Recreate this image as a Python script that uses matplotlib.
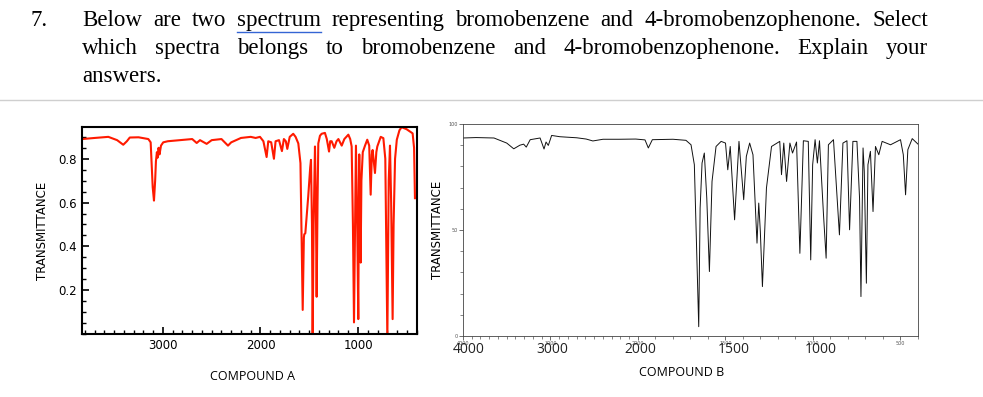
import numpy as np
import matplotlib.pyplot as plt
from matplotlib.ticker import FixedLocator, MultipleLocator, NullFormatter
from matplotlib.lines import Line2D

W, H = 983, 397

question_num = '7.'
question_lines = [
    'Below are two spectrum representing bromobenzene and 4-bromobenzophenone. Select',
    'which spectra belongs to bromobenzene and 4-bromobenzophenone. Explain your',
    'answers.',
]

# compound A: wavenumber (cm-1) and transmittance (0-1)
a_wn = [3828, 3700, 3560, 3470, 3407, 3370, 3340, 3250, 3150, 3126, 3105, 3092,
        3080, 3072, 3062, 3055, 3045, 3035, 3020, 2997, 2950, 2900, 2800, 2700,
        2654, 2620, 2552, 2500, 2400, 2333, 2300, 2200, 2100, 2050, 2005, 1970,
        1937, 1920, 1890, 1862, 1845, 1810, 1780, 1760, 1740, 1725, 1700, 1664,
        1640, 1612, 1590, 1567, 1555, 1551, 1540, 1510, 1490, 1482, 1472, 1465,
        1455, 1441, 1432, 1424, 1415, 1407, 1390, 1373, 1339, 1320, 1297, 1285,
        1270, 1243, 1220, 1201, 1167, 1140, 1099, 1080, 1065, 1052, 1041, 1030,
        1021, 1008, 997, 990, 987, 980, 973, 965, 951, 928, 905, 885, 870, 858,
        850, 826, 812, 802, 767, 740, 720, 699, 685, 672, 660, 645, 635, 620,
        602, 575, 553, 502, 440, 425, 416]
a_tr = [0.890, 0.895, 0.900, 0.885, 0.864, 0.880, 0.897, 0.898, 0.890, 0.875, 0.670, 0.609,
        0.700, 0.788, 0.830, 0.805, 0.850, 0.820, 0.860, 0.875, 0.880, 0.882, 0.886, 0.890,
        0.872, 0.885, 0.868, 0.885, 0.890, 0.860, 0.875, 0.895, 0.900, 0.895, 0.900, 0.880,
        0.808, 0.880, 0.875, 0.800, 0.880, 0.885, 0.835, 0.890, 0.880, 0.845, 0.900, 0.914,
        0.900, 0.870, 0.780, 0.110, 0.440, 0.455, 0.460, 0.630, 0.760, 0.795, 0.500, -0.02,
        0.500, 0.856, 0.600, 0.170, 0.600, 0.870, 0.905, 0.914, 0.918, 0.890, 0.833, 0.880,
        0.880, 0.850, 0.880, 0.890, 0.860, 0.890, 0.910, 0.890, 0.856, 0.500, 0.053, 0.500,
        0.860, 0.500, 0.068, 0.700, 0.820, 0.600, 0.326, 0.700, 0.830, 0.860, 0.887, 0.860,
        0.636, 0.820, 0.840, 0.735, 0.830, 0.856, 0.900, 0.894, 0.800, -0.02, 0.700, 0.860,
        0.600, 0.068, 0.500, 0.800, 0.887, 0.930, 0.944, 0.935, 0.916, 0.850, 0.620]

# compound B: wavenumber (cm-1) and transmittance (%)
b_wn = [4000, 3850, 3646, 3500, 3420, 3350, 3307, 3277, 3232, 3119, 3074, 3051,
        3025, 2987, 2893, 2700, 2592, 2516, 2400, 2215, 2026, 1960, 1941, 1918,
        1800, 1726, 1697, 1678, 1653, 1645, 1634, 1621, 1607, 1592, 1577, 1554,
        1525, 1500, 1487, 1473, 1448, 1423, 1396, 1381, 1362, 1343, 1320, 1310,
        1301, 1289, 1280, 1266, 1237, 1190, 1180, 1167, 1151, 1132, 1117, 1094,
        1075, 1055, 1027, 1013, 1002, 988, 975, 963, 940, 925, 912, 883, 849,
        829, 806, 791, 772, 749, 734, 726, 714, 707, 695, 686, 672, 657, 643,
        624, 605, 557, 500, 484, 471, 458, 433, 400]
b_tr = [93.4, 93.6, 93.4, 91.0, 88.3, 90.0, 90.5, 89.1, 92.6, 93.4, 88.2, 91.5,
        89.9, 94.6, 94.0, 93.5, 92.9, 92.0, 92.8, 92.8, 92.9, 92.5, 88.7, 92.6,
        92.8, 92.3, 90.2, 80.8, 4.4, 60.3, 81.6, 86.3, 65.0, 30.4, 72.9, 89.4,
        91.8, 91.0, 78.4, 89.4, 54.8, 91.8, 64.3, 84.7, 91.0, 85.5, 43.8, 62.7,
        49.3, 23.3, 41.4, 69.8, 89.4, 91.8, 76.1, 91.0, 72.9, 91.0, 86.3, 91.5,
        39.0, 92.1, 91.8, 35.9, 80.8, 92.6, 81.6, 92.1, 57.2, 36.7, 90.2, 92.6, 47.7,
        91.0, 92.1, 50.1, 91.8, 91.8, 65.0, 18.6, 88.7, 77.6, 24.9, 80.8, 87.1, 58.7, 89.4,
        85.5, 91.8, 90.2, 92.6, 85.5, 66.6, 87.9, 93.1, 90.5]

a_ticks = [3000, 2000, 1000]
b_ticks = [4000, 3000, 2000, 1500, 1000, 500]
b_big_labels = ['4000', '3000', '2000', '1500', '1000']


def fwd(w):
    w = np.asarray(w, float)
    return np.where(w < 2000, w, 2000 + (w - 2000) / 2)


def inv(u):
    u = np.asarray(u, float)
    return np.where(u < 2000, u, 2000 + (u - 2000) * 2)


fig = plt.figure(figsize=(W / 100, H / 100), dpi=100)

# ---- question text (justified) ----
r = fig.canvas.get_renderer()
serif = 'Liberation Serif'
fs = 16.5
fig.text(30 / W, 1 - 26 / H, question_num, fontsize=fs, family=serif, va='baseline')
x0, x1 = 82, 928
baselines = [26, 54, 82]
underline_box = None
for li, line in enumerate(question_lines):
    words = line.split(' ')
    texts = [fig.text(0, 1 - baselines[li] / H, w, fontsize=fs, family=serif, va='baseline')
             for w in words]
    widths = [t.get_window_extent(r).width for t in texts]
    if li < len(question_lines) - 1:
        gap = (x1 - x0 - sum(widths)) / (len(words) - 1)
    else:
        gap = 5
    x = x0
    for t, w_, word in zip(texts, widths, words):
        t.set_x(x / W)
        if word == 'spectrum':
            underline_box = (x, x + w_)
        x += w_ + gap

if underline_box:
    fig.add_artist(Line2D([underline_box[0] / W, underline_box[1] / W],
                          [1 - 32 / H, 1 - 32 / H], transform=fig.transFigure,
                          color='#3465d4', lw=1.0))

fig.add_artist(Line2D([0, 1], [1 - 99.5 / H, 1 - 99.5 / H], transform=fig.transFigure,
                      color='#cfcfcf', lw=1.0))

# ---- compound A ----
axA = fig.add_axes([82 / W, 1 - 334 / H, 335 / W, 207 / H])
axA.plot(a_wn, a_tr, color='#ff1a00', lw=1.5)
axA.set_xlim(3830, 395)
axA.set_ylim(0, 0.945)
axA.set_xticks(a_ticks)
axA.xaxis.set_minor_locator(MultipleLocator(100))
axA.set_yticks([0.2, 0.4, 0.6, 0.8])
axA.yaxis.set_minor_locator(MultipleLocator(0.05))
axA.tick_params(which='both', direction='in', labelsize=8.5, top=False, right=False)
axA.tick_params(which='major', length=5, width=1.2)
axA.tick_params(which='minor', length=3, width=1.0)
for s in axA.spines.values():
    s.set_linewidth(1.5)
axA.set_ylabel('TRANSMITTANCE', fontsize=8.5)
axA.yaxis.set_label_coords(-0.1, 0.5)
fig.text(252 / W, 1 - 377 / H, 'COMPOUND A', fontsize=9, family='Open Sans',
         ha='center', va='center')

# ---- compound B ----
axB = fig.add_axes([463 / W, 1 - 336 / H, 455 / W, 212 / H])
axB.set_xscale('function', functions=(fwd, inv))
axB.plot(b_wn, b_tr, color='#111111', lw=0.7)
axB.set_xlim(4000, 400)
axB.set_ylim(0, 100)
axB.xaxis.set_major_locator(FixedLocator(b_ticks))
axB.xaxis.set_minor_locator(FixedLocator(list(range(400, 4001, 100))))
axB.xaxis.set_minor_formatter(NullFormatter())
axB.set_xticklabels([str(v) for v in b_ticks])
axB.set_yticks([0, 50, 100])
axB.yaxis.set_minor_locator(MultipleLocator(10))
axB.tick_params(which='both', direction='out', labelsize=3.5, colors='#555555',
                pad=0.5, top=False, right=False)
axB.tick_params(which='major', length=3, width=0.6)
axB.tick_params(which='minor', length=2, width=0.5)
for s in axB.spines.values():
    s.set_linewidth(0.6)
    s.set_color('#444444')
for lab, v in zip(b_big_labels, [3935, 2977, 1988, 1454, 954]):
    axB.text(v, -0.062, lab, transform=axB.get_xaxis_transform(), fontsize=10,
             family='Open Sans', ha='center', va='center', color='#222222')
axB.set_ylabel('TRANSMITTANCE', fontsize=8.5)
axB.yaxis.set_label_coords(-0.042, 0.5)
fig.text(682 / W, 1 - 373 / H, 'COMPOUND B', fontsize=9, family='Open Sans',
         ha='center', va='center')

fig.savefig('out.png', dpi=100)
